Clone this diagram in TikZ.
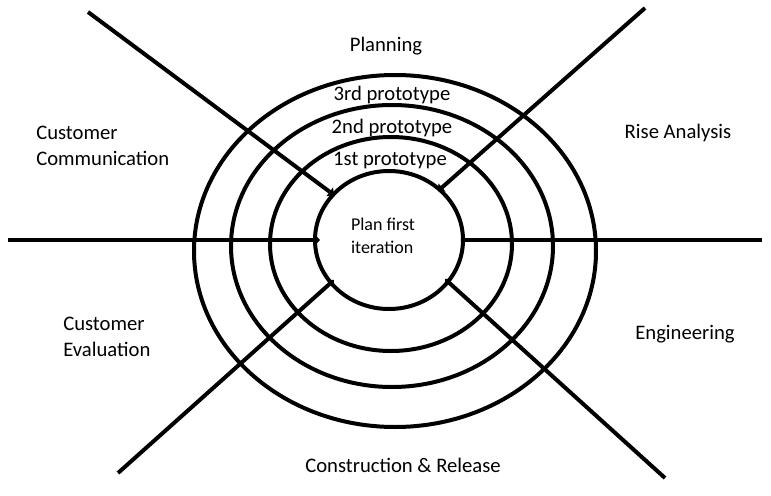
\documentclass[tikz,border=0pt]{standalone}
\usepackage{fontspec}
\setmainfont{Carlito}
\usetikzlibrary{arrows.meta}
\begin{document}
\begin{tikzpicture}[x=0.75pt,y=-0.75pt,
  ring/.style={line width=3pt},
  spoke/.style={line width=3pt,-{Triangle[length=4pt,width=8pt]}},
  lbl/.style={font=\fontsize{15.5}{19.5}\selectfont,inner sep=0pt},
  lbll/.style={lbl,align=left,anchor=west}]
\useasboundingbox (0,0) rectangle (771,496);
\draw[ring] (389,240) ellipse [x radius=74,y radius=69];
\draw[ring] (391,244) ellipse [x radius=121,y radius=107];
\draw[ring] (392,246) ellipse [x radius=161,y radius=141];
\draw[ring] (395,251) ellipse [x radius=201,y radius=176];
\coordinate (l0) at (8,240);   \coordinate (l1) at (320,240);
\coordinate (r0) at (762,240); \coordinate (r1) at (463,240);
\coordinate (a0) at (88,12);   \coordinate (a1) at (334,195);
\coordinate (b0) at (645,8);   \coordinate (b1) at (438,191);
\coordinate (c0) at (118,473); \coordinate (c1) at (334,280);
\coordinate (d0) at (665,478); \coordinate (d1) at (445,279);
\draw[spoke] (l0) -- (l1);
\draw[line width=3pt] (r1) -- (r0);
\draw[spoke] (a0) -- (a1);
\draw[spoke] (b0) -- (b1);
\draw[spoke] (c0) -- (c1);
\draw[spoke] (d0) -- (d1);
\node[lbl] (plan) at (386,46) {Planning};
\node[lbl] (p3) at (392,95) {3rd prototype};
\node[lbl] (p2) at (392,128) {2nd prototype};
\node[lbl] (p1) at (390,161) {1st prototype};
\node[lbl,align=left,font=\fontsize{13.5}{17}\selectfont] (pf) at (383,236) {Plan first\\iteration};
\node[lbll] (cc) at (36,146) {Customer\\Communication};
\node[lbl] (ra) at (678,133) {Rise Analysis};
\node[lbll] (ce) at (63,337) {Customer\\Evaluation};
\node[lbl] (en) at (685,334) {Engineering};
\node[lbl] (cr) at (403,465) {Construction \& Release};
\end{tikzpicture}
\end{document}
